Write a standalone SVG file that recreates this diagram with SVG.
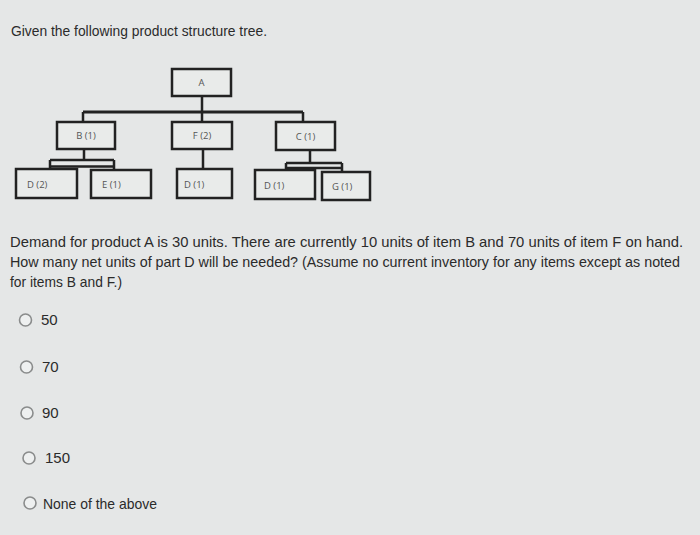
<svg xmlns="http://www.w3.org/2000/svg" width="700" height="535" viewBox="0 0 700 535">
<style>
.bg{fill:#e5e7e7}
.box{fill:#e9ebea;stroke:#222;stroke-width:2.5}
.lbl{font-family:"Open Sans","Liberation Sans",sans-serif;font-size:9.5px;fill:#555}
.txt{font-family:"Liberation Sans",Arial,sans-serif;font-size:15px;fill:#2b2b2b}
.conn{fill:none;stroke:#222;stroke-width:2.5}
.bar{fill:none;stroke:#222;stroke-width:3.2}
.radio{fill:#eef0f0;stroke:#8a8c8c;stroke-width:1.6}
</style>
<rect class="bg" x="0" y="0" width="700" height="535"/>
<text class="txt" x="11" y="36" font-size="14.5" textLength="256" lengthAdjust="spacingAndGlyphs">Given the following product structure tree.</text>
<g id="connectors">
<path class="conn" d="M202 96 V112 M83 112 V122 M202 112 V122 M303 112 V122"/>
<path class="bar" d="M83 112 H303"/>
<path class="conn" d="M84 149 V160 M50 160 H114 M50 166.5 H114 M50 160 V169 M114 160 V170"/>
<path class="conn" d="M203 149 V169"/>
<path class="conn" d="M310 150 V163 M286 163 H342 M286 168 H342 M286 163 V170 M342 163 V172"/>
</g>
<g id="node-A"><rect class="box" x="172" y="69" width="59" height="27"/><text class="lbl" x="201.5" y="86" text-anchor="middle">A</text></g>
<g id="node-B"><rect class="box" x="57" y="122" width="58" height="27"/><text class="lbl" x="86" y="139" text-anchor="middle">B (1)</text></g>
<g id="node-F"><rect class="box" x="172" y="122" width="60" height="27"/><text class="lbl" x="202" y="139" text-anchor="middle">F (2)</text></g>
<g id="node-C"><rect class="box" x="276" y="122" width="59" height="28"/><text class="lbl" x="305.5" y="140" text-anchor="middle">C (1)</text></g>
<g id="node-D2"><rect class="box" x="16" y="169" width="61" height="29"/><text class="lbl" x="27" y="188">D (2)</text></g>
<g id="node-E1"><rect class="box" x="91" y="170" width="60" height="28"/><text class="lbl" x="102" y="188">E (1)</text></g>
<g id="node-D1a"><rect class="box" x="177" y="169" width="55" height="29"/><text class="lbl" x="184" y="188">D (1)</text></g>
<g id="node-D1b"><rect class="box" x="255" y="170" width="60" height="29"/><text class="lbl" x="264" y="189">D (1)</text></g>
<g id="node-G1"><rect class="box" x="322" y="172" width="48" height="28"/><text class="lbl" x="332" y="190">G (1)</text></g>
<text class="txt" x="10" y="247" textLength="673" lengthAdjust="spacingAndGlyphs">Demand for product A is 30 units. There are currently 10 units of item B and 70 units of item F on hand.</text>
<text class="txt" x="10" y="267" textLength="670" lengthAdjust="spacingAndGlyphs">How many net units of part D will be needed? (Assume no current inventory for any items except as noted</text>
<text class="txt" x="10" y="287" textLength="112" lengthAdjust="spacingAndGlyphs">for items B and F.)</text>
<circle class="radio" cx="25.5" cy="320" r="6"/>
<text class="txt" x="41" y="325">50</text>
<circle class="radio" cx="26.5" cy="367" r="6"/>
<text class="txt" x="42" y="372">70</text>
<circle class="radio" cx="27" cy="413" r="6"/>
<text class="txt" x="42" y="418">90</text>
<circle class="radio" cx="29" cy="458" r="6"/>
<text class="txt" x="45" y="463">150</text>
<circle class="radio" cx="30" cy="503" r="6"/>
<text class="txt" x="43" y="509" textLength="114" lengthAdjust="spacingAndGlyphs">None of the above</text>
</svg>
